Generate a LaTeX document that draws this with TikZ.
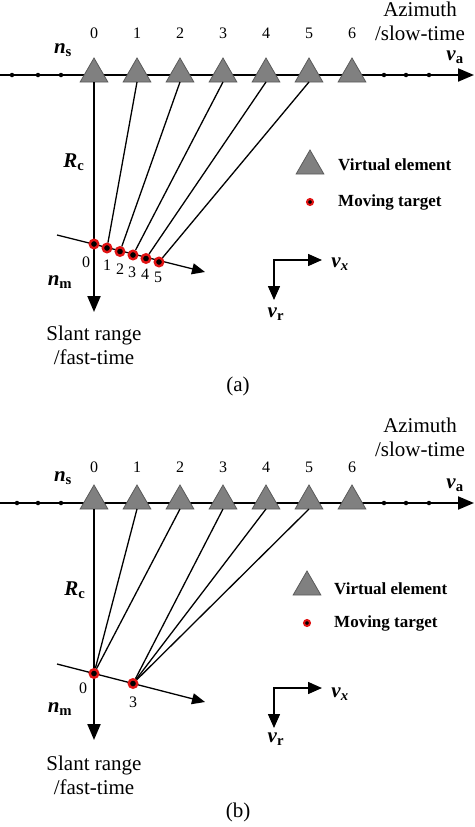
\documentclass[tikz,border=0pt]{standalone}
\usepackage{fontspec}
\setmainfont{Liberation Serif}
\usetikzlibrary{arrows.meta,shapes.geometric,positioning}

\definecolor{elemgray}{RGB}{128,128,128}
\definecolor{elemedge}{RGB}{90,90,90}
\definecolor{tgtred}{RGB}{225,20,20}
\newcommand{\bvec}[2]{\textbf{\textit{#1}}\textsubscript{\textbf{#2}}}

\begin{document}
\begin{tikzpicture}[x=1pt,y=-1pt,
	elem/.style={regular polygon,regular polygon sides=3,minimum size=32pt,
		inner sep=0pt,outer sep=0pt,fill=elemgray,draw=elemedge,line width=0.8pt},
	tgt/.style={circle,fill=black,draw=tgtred,line width=2.4pt,minimum size=8.5pt,inner sep=0pt},
	axdot/.style={circle,fill=black,minimum size=4.5pt,inner sep=0pt},
	axis/.style={line width=2pt,-{Triangle[length=16pt,width=13pt]}},
	mvline/.style={line width=1.3pt,-{Triangle[length=13pt,width=11pt]}},
	dirs/.style={line width=1.5pt,line join=miter,
		{Triangle[length=14pt,width=12pt]}-{Triangle[length=14pt,width=12pt]}},
	ray/.style={line width=1.3pt},
	txt/.style={font=\fontsize{21}{24}\selectfont,inner sep=0pt},
	num/.style={font=\fontsize{16}{18}\selectfont,inner sep=0pt},
	lab/.style={font=\fontsize{21}{23}\selectfont,inner sep=0pt},
	leg/.style={font=\fontsize{17}{20}\selectfont\bfseries,inner sep=0pt,anchor=west},
]
\useasboundingbox (0,0) rectangle (474,827);

% (a)
\coordinate (a-l) at (0,75);
\coordinate (a-r) at (474,75);
\draw[axis] (a-l) -- (a-r);
\foreach \x [count=\i] in {12,38,61,384,406,429}
	\node[axdot] (a-d\i) at (\x,75) {};
\foreach \k in {0,...,6} {
	\node[elem] (a-e\k) at (94+43*\k,74) {};
	\node[num] (a-n\k) at (94+43*\k,33) {\k};
}
\node[lab] (a-ns) at (63,50) {\bvec{n}{s}};
\node[lab] (a-va) at (455,57) {\bvec{v}{a}};
\node[txt,align=center] (a-az) at (420,21) {Azimuth\\/slow-time};

\coordinate (a-s) at (94,312);
\draw[axis] (a-e0.side 2) -- (a-s);
\coordinate (a-ml) at (57,235);
\coordinate (a-mr) at (205,272);
\draw[mvline] (a-ml) -- (a-mr);
\foreach \x/\y [count=\i from 0] in {94/244,107/248,120/251.5,133/255,146/258.5,159/262}
	\node[tgt] (a-t\i) at (\x,\y) {};
\foreach \k in {1,...,5}
	\draw[ray] (a-e\k.side 2) -- (a-t\k);
\node[num] (a-m0) at (86,262) {0};
\foreach \x/\y [count=\i] in {107/265,120/269,132/272,145/274,158/277}
	\node[num] (a-m\i) at (\x,\y) {\i};

\node[lab] (a-rc) at (74,162) {\bvec{R}{c}};
\node[lab] (a-nm) at (60,282) {\bvec{n}{m}};
\node[txt,align=center] (a-sr) at (94,345) {Slant range\\/fast-time};

\node[elem] (a-le) at (310,166) {};
\node[leg] (a-let) at (338,165) {Virtual element};
\node[tgt,minimum size=6pt,line width=2pt] (a-lt) at (310,202) {};
\node[leg] (a-ltt) at (338,202) {Moving target};

\coordinate (a-o) at (274,260);
\coordinate (a-vx) at (322,260);
\coordinate (a-vr) at (274,300);
\draw[dirs] (a-vx) -- (a-o) -- (a-vr);
\node[lab] (a-vxl) at (340,264) {\textbf{\textit{v}}\textsubscript{\textbf{\textit{x}}}};
\node[lab] (a-vrl) at (276,314) {\bvec{v}{r}};

\node[txt] (a-cap) at (238,386) {(a)};

% (b)
\coordinate (b-l) at (0,503);
\coordinate (b-r) at (474,503);
\draw[axis] (b-l) -- (b-r);
\foreach \x [count=\i] in {17,38,61,384,406,429}
	\node[axdot] (b-d\i) at (\x,503) {};
\foreach \k in {0,...,6} {
	\node[elem] (b-e\k) at (94+43*\k,501) {};
	\node[num] (b-n\k) at (94+43*\k,467) {\k};
}
\node[lab] (b-ns) at (63,478) {\bvec{n}{s}};
\node[lab] (b-va) at (455,485) {\bvec{v}{a}};
\node[txt,align=center] (b-az) at (420,437) {Azimuth\\/slow-time};

\coordinate (b-s) at (94,740);
\draw[axis] (b-e0.side 2) -- (b-s);
\coordinate (b-ml) at (57,664);
\coordinate (b-mr) at (205,702);
\draw[mvline] (b-ml) -- (b-mr);
\node[tgt] (b-t0) at (94,673.5) {};
\node[tgt] (b-t3) at (133,683.5) {};
\foreach \k in {1,2}
	\draw[ray] (b-e\k.side 2) -- (b-t0);
\foreach \k in {3,4,5}
	\draw[ray] (b-e\k.side 2) -- (b-t3);
\node[num] (b-m0) at (83,688) {0};
\node[num] (b-m3) at (133,702) {3};

\node[lab] (b-rc) at (75,590) {\bvec{R}{c}};
\node[lab] (b-nm) at (60,709) {\bvec{n}{m}};
\node[txt,align=center] (b-sr) at (94,775) {Slant range\\/fast-time};

\node[elem] (b-le) at (307,587) {};
\node[leg] (b-let) at (334,589) {Virtual element};
\node[tgt,minimum size=6pt,line width=2pt] (b-lt) at (307,623) {};
\node[leg] (b-ltt) at (334,623) {Moving target};

\coordinate (b-o) at (274,688);
\coordinate (b-vx) at (322,688);
\coordinate (b-vr) at (274,728);
\draw[dirs] (b-vx) -- (b-o) -- (b-vr);
\node[lab] (b-vxl) at (340,694) {\textbf{\textit{v}}\textsubscript{\textbf{\textit{x}}}};
\node[lab] (b-vrl) at (276,739) {\bvec{v}{r}};

\node[txt] (b-cap) at (238,812) {(b)};
\end{tikzpicture}
\end{document}
